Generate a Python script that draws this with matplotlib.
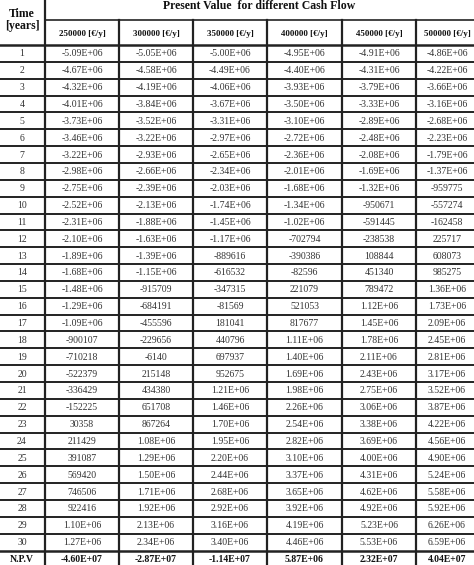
import matplotlib
matplotlib.use("Agg")
import matplotlib.pyplot as plt

years = [str(i) for i in range(1, 31)] + ["N.P.V"]
headers = ["250000 [€/y]", "300000 [€/y]", "350000 [€/y]", "400000 [€/y]", "450000 [€/y]", "500000 [€/y]"]
c250 = ["-5.09E+06","-4.67E+06","-4.32E+06","-4.01E+06","-3.73E+06","-3.46E+06","-3.22E+06","-2.98E+06","-2.75E+06","-2.52E+06","-2.31E+06","-2.10E+06","-1.89E+06","-1.68E+06","-1.48E+06","-1.29E+06","-1.09E+06","-900107","-710218","-522379","-336429","-152225","30358","211429","391087","569420","746506","922416","1.10E+06","1.27E+06","-4.60E+07"]
c300 = ["-5.05E+06","-4.58E+06","-4.19E+06","-3.84E+06","-3.52E+06","-3.22E+06","-2.93E+06","-2.66E+06","-2.39E+06","-2.13E+06","-1.88E+06","-1.63E+06","-1.39E+06","-1.15E+06","-915709","-684191","-455596","-229656","-6140","215148","434380","651708","867264","1.08E+06","1.29E+06","1.50E+06","1.71E+06","1.92E+06","2.13E+06","2.34E+06","-2.87E+07"]
c350 = ["-5.00E+06","-4.49E+06","-4.06E+06","-3.67E+06","-3.31E+06","-2.97E+06","-2.65E+06","-2.34E+06","-2.03E+06","-1.74E+06","-1.45E+06","-1.17E+06","-889616","-616532","-347315","-81569","181041","440796","697937","952675","1.21E+06","1.46E+06","1.70E+06","1.95E+06","2.20E+06","2.44E+06","2.68E+06","2.92E+06","3.16E+06","3.40E+06","-1.14E+07"]
c400 = ["-4.95E+06","-4.40E+06","-3.93E+06","-3.50E+06","-3.10E+06","-2.72E+06","-2.36E+06","-2.01E+06","-1.68E+06","-1.34E+06","-1.02E+06","-702794","-390386","-82596","221079","521053","817677","1.11E+06","1.40E+06","1.69E+06","1.98E+06","2.26E+06","2.54E+06","2.82E+06","3.10E+06","3.37E+06","3.65E+06","3.92E+06","4.19E+06","4.46E+06","5.87E+06"]
c450 = ["-4.91E+06","-4.31E+06","-3.79E+06","-3.33E+06","-2.89E+06","-2.48E+06","-2.08E+06","-1.69E+06","-1.32E+06","-950671","-591445","-238538","108844","451340","789472","1.12E+06","1.45E+06","1.78E+06","2.11E+06","2.43E+06","2.75E+06","3.06E+06","3.38E+06","3.69E+06","4.00E+06","4.31E+06","4.62E+06","4.92E+06","5.23E+06","5.53E+06","2.32E+07"]
c500 = ["-4.86E+06","-4.22E+06","-3.66E+06","-3.16E+06","-2.68E+06","-2.23E+06","-1.79E+06","-1.37E+06","-959775","-557274","-162458","225717","608073","985275","1.36E+06","1.73E+06","2.09E+06","2.45E+06","2.81E+06","3.17E+06","3.52E+06","3.87E+06","4.22E+06","4.56E+06","4.90E+06","5.24E+06","5.58E+06","5.92E+06","6.26E+06","6.59E+06","4.04E+07"]
columns = [c250, c300, c350, c400, c450, c500]

W, H = 474, 565
fig = plt.figure(figsize=(W/100, H/100), dpi=100)
ax = fig.add_axes([0, 0, 1, 1])
ax.set_xlim(0, W); ax.set_ylim(H, 0); ax.axis("off")

xb = [0, 45, 119, 193, 267, 342, 416, 478]
y_top_title = 20
y_body = 45
rh = 16.85
serif = "Liberation Serif"
tc = "#333333"
lc = "#222222"

ax.plot([xb[1], xb[1]], [0, H], color=lc, lw=1.6)
ax.plot([xb[1], W], [y_top_title, y_top_title], color=lc, lw=1.2)
for x in xb[2:-1]:
    ax.plot([x, x], [y_top_title, H], color=lc, lw=1.6)
for i in range(len(years) + 1):
    y = y_body + i * rh
    ax.plot([0, W], [y, y], color=lc, lw=1.8 if i in (0, 30) else 1.4)

ax.text((xb[1] + W) / 2, 6, "Present Value  for different Cash Flow", ha="center", va="center",
        family=serif, fontweight="bold", fontsize=8.5, color="#111")
ax.text(22, 20, "Time\n[years]", ha="center", va="center", family=serif, fontweight="bold",
        fontsize=8.5, color="#111", linespacing=1.1)
for j, h in enumerate(headers):
    ax.text((xb[j+1] + xb[j+2]) / 2, (y_top_title + y_body) / 2 + 1, h, ha="center", va="center",
            family=serif, fontweight="bold", fontsize=6.5, color="#111")
for i, yr in enumerate(years):
    yc = y_body + (i + 0.5) * rh + 0.5
    last = i == len(years) - 1
    fw = "bold" if last else "normal"
    col = "#111" if last else tc
    ax.text(22, yc, yr, ha="center", va="center", family=serif, fontsize=7, fontweight=fw, color=col)
    for j, c in enumerate(columns):
        ax.text((xb[j+1] + xb[j+2]) / 2, yc, c[i], ha="center", va="center", family=serif,
                fontsize=7, fontweight=fw, color=col)

fig.savefig("out.png", dpi=100, facecolor="white")
